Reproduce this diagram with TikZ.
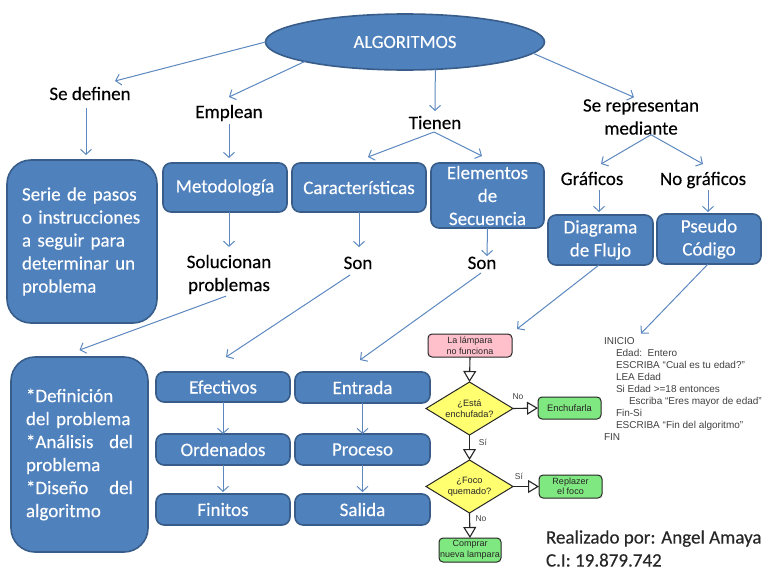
\documentclass[tikz,border=0pt]{standalone}
\usepackage{fontspec}
\setmainfont[FakeBold=0.25]{Carlito}
\newfontfamily\arialf{Liberation Sans}
\usetikzlibrary{arrows.meta,shapes.geometric}
\definecolor{bfill}{HTML}{4F81BD}
\definecolor{bline}{HTML}{385D8A}
\definecolor{arrowc}{HTML}{5C88BF}
\definecolor{pinkf}{HTML}{FFC0CB}
\definecolor{yellf}{HTML}{FFFF70}
\definecolor{greenf}{HTML}{80E880}
\tikzset{
  every node/.style={inner sep=0pt,outer sep=0pt},
  bb/.style={draw=bline,fill=bfill,line width=1.6pt,rounded corners=8pt,text=white,align=center,
    font=\fontsize{19}{23}\selectfont},
  bigb/.style={bb,rounded corners=24pt,align=left,inner xsep=15pt},
  lbl/.style={text=black,align=center,font=\fontsize{19}{23}\selectfont,text height=14pt,text depth=2pt},
  lbl2/.style={text=black,align=center,font=\fontsize{19}{23}\selectfont},
  con/.style={draw=arrowc,line width=1pt,-{Straight Barb[length=5pt,width=11pt]}},
  fb/.style={draw=black!85,line width=1pt,rounded corners=4pt,align=center,text=black!85,
    font=\arialf\fontsize{9}{10.5}\selectfont},
  dm/.style={shape=diamond,draw=black!85,fill=yellf,line width=1pt,align=center,text=black!85,
    minimum width=87pt,minimum height=53pt,shape aspect=1.64,
    font=\arialf\fontsize{9.2}{11}\selectfont},
  fa/.style={draw=black!85,line width=1.1pt,-{Triangle[fill=white,length=11pt,width=13pt]}},
  fl/.style={text=black!75,font=\arialf\fontsize{8.5}{10}\selectfont},
}
\begin{document}
\begin{tikzpicture}[x=1pt,y=-1pt]
\useasboundingbox (0,0) rectangle (768,576);
\node[ellipse,draw=bline,fill=bfill,line width=1.6pt,minimum width=279pt,minimum height=56pt,text=white,
  font=\fontsize{18.6}{20}\selectfont] (algo) at (405,42) {ALGORITMOS};
% first row labels
\node[lbl] (sedef) at (90,94) {Se definen};
\node[lbl] (emp) at (229,112) {Emplean};
\node[lbl] (tie) at (435,123) {Tienen};
\node[lbl2] (serep) at (641,117) {Se representan\\mediante};
\node[lbl] (graf) at (592,179) {Gráficos};
\node[lbl] (nograf) at (703,179) {No gráficos};
% boxes
\node[bigb,minimum width=150pt,minimum height=163pt,text width=120pt] (serie) at (82,241.5)
  {Serie de pasos\\o instrucciones\\a seguir para\\determinar un\\problema};
\node[bb,minimum width=124pt,minimum height=49pt] (met) at (225,187.5) {Metodología};
\node[bb,minimum width=134pt,minimum height=49pt] (car) at (359,187.5) {Características};
\node[bb,minimum width=113pt,minimum height=65pt] (ele) at (487.5,195.5) {Elementos\\de\\Secuencia};
\node[bb,minimum width=105pt,minimum height=50pt] (dia) at (600.5,240) {Diagrama\\de Flujo};
\node[bb,minimum width=104pt,minimum height=50pt] (pse) at (709,239) {Pseudo\\Código};
\node[lbl2] (sol) at (229,274.5) {Solucionan\\problemas};
\node[lbl] (son1) at (358,263) {Son};
\node[lbl] (son2) at (482,263) {Son};
\node[bigb,minimum width=137pt,minimum height=195pt,text width=107pt] (def) at (79.5,454.5)
  {*Definición\\del problema\\{}*Análisis\hfill del\\problema\\{}*Diseño\hfill del\\algoritmo};
\node[bb,minimum width=134pt,minimum height=30pt] (efe) at (223,387) {Efectivos};
\node[bb,minimum width=134pt,minimum height=31pt] (ord) at (223,449.5) {Ordenados};
\node[bb,minimum width=134pt,minimum height=31pt] (fin) at (223,509.5) {Finitos};
\node[bb,minimum width=135pt,minimum height=31pt] (ent) at (362.5,387.5) {Entrada};
\node[bb,minimum width=135pt,minimum height=31pt] (pro) at (362.5,449.5) {Proceso};
\node[bb,minimum width=135pt,minimum height=31pt] (sal) at (362.5,509.5) {Salida};
% flowchart
\node[fb,fill=pinkf,minimum width=84pt,minimum height=23pt] (la) at (470,345.5) {La lámpara\\no funciona};
\node[dm] (d1) at (469.5,408.5) {¿Está\\enchufada?};
\node[dm] (d2) at (469.5,486.5) {¿Foco\\quemado?};
\node[fb,fill=greenf,minimum width=63pt,minimum height=22pt,font=\arialf\fontsize{9.4}{10.5}\selectfont] (enc) at (569.5,408) {Enchufarla};
\node[fb,fill=greenf,minimum width=63pt,minimum height=23pt] (rep) at (570.5,486.5) {Replazer\\el foco};
\node[fb,fill=greenf,minimum width=62pt,minimum height=24pt] (com) at (470,550) {Comprar\\nueva lampara};
\node[fl] (no1) at (518,397) {No};
\node[fl] (si1) at (483,442) {Sí};
\node[fl] (si2) at (519,476) {Sí};
\node[fl] (no2) at (481,519) {No};
\node[anchor=north west,align=left,text=black!75,font=\arialf\fontsize{10}{12.05}\selectfont] (pcode) at (604,337.5)
 {INICIO\\
  \hspace*{12pt}Edad:\ \ Entero\\
  \hspace*{12pt}ESCRIBA “Cual es tu edad?”\\
  \hspace*{12pt}LEA Edad\\
  \hspace*{12pt}Si Edad >=18 entonces\\
  \hspace*{25pt}Escriba “Eres mayor de edad”\\
  \hspace*{12pt}Fin-Si\\
  \hspace*{12pt}ESCRIBA “Fin del algoritmo”\\
  FIN};
\node[anchor=west,align=left,text=black!85,font=\fontsize{19}{23}\selectfont] (autor) at (546,548.5)
  {Realizado por: Angel Amaya\\C.I: 19.879.742};
% connectors
\draw[con] (algo.west) -- ([xshift=25pt,yshift=5pt]sedef.north);
\draw[con] (algo.191) -- ([yshift=7pt]emp.north);
\draw[con] (algo.318) -- ([yshift=4pt]tie.north);
\draw[con] (algo.355) -- ([xshift=-7pt,yshift=2pt]serep.north);
\draw[con] ([xshift=-4pt,yshift=-6pt]sedef.south) -- ([xshift=4pt,yshift=5pt]serie.north);
\draw[con] ([yshift=-4pt]emp.south) -- ([xshift=4pt,yshift=5pt]met.north);
\draw[con] ([xshift=4pt]met.south) -- ([yshift=8pt]sol.north);
\draw[con] (car.south) -- ([xshift=1pt,yshift=8pt]son1.north);
\draw[con] (ele.south) -- ([xshift=5pt,yshift=-1pt]son2.north);
\draw[con] ([xshift=-1pt,yshift=-1pt]tie.south) -- ([xshift=9pt,yshift=6pt]car.north);
\draw[con] ([xshift=-1pt,yshift=-1pt]tie.south) -- ([xshift=-5.5pt,yshift=7pt]ele.north);
\draw[con] ([xshift=10pt]serep.south) -- ([xshift=9pt,yshift=7pt]graf.north);
\draw[con] ([xshift=10pt]serep.south) -- ([yshift=7pt]nograf.north);
\draw[con] ([xshift=7pt,yshift=-3pt]graf.south) -- ([xshift=-1.5pt,yshift=3pt]dia.north);
\draw[con] ([xshift=5pt,yshift=-3pt]nograf.south) -- ([xshift=-1pt,yshift=2pt]pse.north);
\draw[con] ([xshift=-1.5pt]dia.south) -- ([xshift=47pt,yshift=5pt]la.north);
\draw[con] ([xshift=-1pt]pse.south) -- ([xshift=37pt,yshift=4pt]pcode.north west);
\draw[con] ([xshift=-3pt,yshift=-2pt]sol.south) -- ([yshift=7pt]def.north);
\draw[con] ([xshift=-8pt,yshift=-4pt]son1.south) -- ([xshift=3pt,yshift=15pt]efe.north);
\draw[con] ([xshift=-1pt,yshift=-2pt]son2.south) -- ([xshift=-2.5pt,yshift=12pt]ent.north);
\draw[con] (efe.south) -- (ord.north);
\draw[con] (ord.south) -- ([yshift=2pt]fin.north);
\draw[con] (ent.south) -- (pro.north);
\draw[con] (pro.south) -- ([yshift=2pt]sal.north);
\draw[fa] (la.south) -- (d1.north);
\draw[fa] (d1.south) -- (d2.north);
\draw[fa] (d2.south) -- (com.north);
\draw[fa] (d1.east) -- (enc.west);
\draw[fa] (d2.east) -- (rep.west);
\end{tikzpicture}
\end{document}
